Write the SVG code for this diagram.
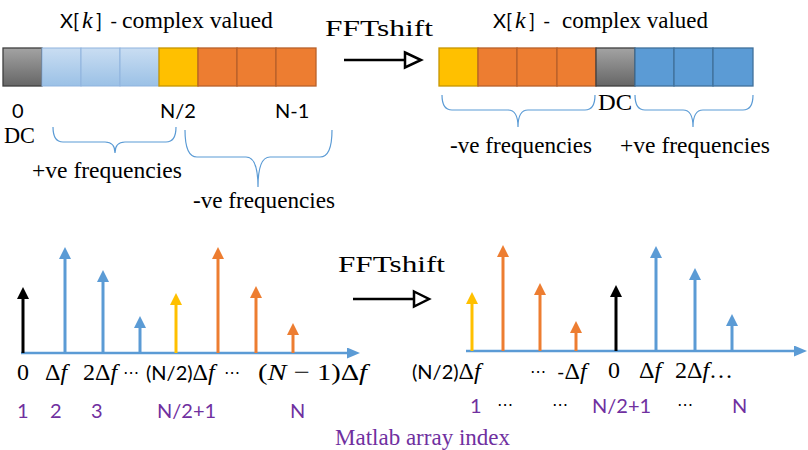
<svg xmlns="http://www.w3.org/2000/svg" width="808" height="450" viewBox="0 0 808 450">
<style>
.sans{font-family:Lato,"Open Sans","Liberation Sans",sans-serif;font-size:20px;fill:#000}
.ser{font-family:"Liberation Serif","DejaVu Serif",serif;font-size:23px;fill:#000}
.m{font-family:"Liberation Serif","DejaVu Serif",serif;font-size:24px;fill:#000}
.it{font-style:italic}
.dots{font-family:"DejaVu Sans",sans-serif;font-size:16px;fill:#000}
.pur{fill:#7030a0}
.brace{fill:none;stroke:#5b9bd5;stroke-width:1.2}
.lb{fill:url(#gLB);stroke:#8fb3de;stroke-width:1}
.bl{fill:#5b9bd5;stroke:#41719c;stroke-width:1.3}
.or{fill:#ed7d31;stroke:#b8612a;stroke-width:1.3}
.ye{fill:#ffc000;stroke:#c79600;stroke-width:1.3}
.gr{fill:url(#gGr);stroke:#3f3f3f;stroke-width:1.3}
.stem{stroke-width:3;fill:none}
.sb{stroke:#5b9bd5}
.so{stroke:#ed7d31}
.sy{stroke:#ffc000}
.sk{stroke:#000}
.axis{stroke:#5b9bd5;stroke-width:2.5;fill:none}
.shift{stroke:#000;stroke-width:2.5;fill:none}
</style>
<defs>
<linearGradient id="gLB" x1="0" y1="0" x2="0" y2="1"><stop offset="0" stop-color="#c9ddf2"/><stop offset="1" stop-color="#9bc1e6"/></linearGradient>
<linearGradient id="gGr" x1="0" y1="0" x2="0" y2="1"><stop offset="0" stop-color="#a3a3a3"/><stop offset="1" stop-color="#666"/></linearGradient>
<marker id="aB" markerUnits="userSpaceOnUse" markerWidth="12" markerHeight="12" refX="0" refY="6" orient="auto"><path d="M0,0 L12,6 L0,12 z" fill="#5b9bd5"/></marker>
<marker id="aO" markerUnits="userSpaceOnUse" markerWidth="12" markerHeight="12" refX="0" refY="6" orient="auto"><path d="M0,0 L12,6 L0,12 z" fill="#ed7d31"/></marker>
<marker id="aY" markerUnits="userSpaceOnUse" markerWidth="12" markerHeight="12" refX="0" refY="6" orient="auto"><path d="M0,0 L12,6 L0,12 z" fill="#ffc000"/></marker>
<marker id="aK" markerUnits="userSpaceOnUse" markerWidth="12" markerHeight="12" refX="0" refY="6" orient="auto"><path d="M0,0 L12,6 L0,12 z" fill="#000"/></marker>
<marker id="aAx" markerUnits="userSpaceOnUse" markerWidth="13" markerHeight="11" refX="0" refY="5.5" orient="auto"><path d="M0,0 L13,5.5 L0,11 z" fill="#5b9bd5"/></marker>
</defs>

<!-- Top-left array -->
<g id="array-original">
<rect class="gr" x="3" y="48" width="39" height="38"/>
<rect class="lb" x="42" y="48" width="39" height="38"/>
<rect class="lb" x="81" y="48" width="39" height="38"/>
<rect class="lb" x="120" y="48" width="39" height="38"/>
<rect class="ye" x="159" y="48" width="39" height="38"/>
<rect class="or" x="198" y="48" width="39" height="38"/>
<rect class="or" x="237" y="48" width="39" height="38"/>
<rect class="or" x="276" y="48" width="40" height="38"/>
</g>
<g id="title-left">
<text x="60" y="28"><tspan class="sans" font-size="22">X[</tspan><tspan class="m it" x="82">k</tspan><tspan class="sans" font-size="22" x="96">]</tspan><tspan class="sans" font-size="22" x="110">-</tspan></text>
<text class="ser" x="122" y="28" textLength="151" lengthAdjust="spacingAndGlyphs">complex valued</text>
</g>
<g id="labels-left">
<text class="sans" x="12" y="118">0</text>
<text class="sans" x="160" y="118">N/2</text>
<text class="sans" x="275" y="118">N-1</text>
<text class="ser" x="4" y="143" font-size="22" textLength="31" lengthAdjust="spacingAndGlyphs">DC</text>
<text class="ser" x="32" y="178" textLength="150" lengthAdjust="spacingAndGlyphs">+ve frequencies</text>
<text class="ser" x="193" y="208" textLength="142" lengthAdjust="spacingAndGlyphs">-ve frequencies</text>
</g>

<!-- Top-right array -->
<g id="array-shifted">
<rect class="ye" x="439" y="48" width="39" height="38"/>
<rect class="or" x="478" y="48" width="39" height="38"/>
<rect class="or" x="517" y="48" width="40" height="38"/>
<rect class="or" x="557" y="48" width="39" height="38"/>
<rect class="gr" x="596" y="48" width="39" height="38"/>
<rect class="bl" x="635" y="48" width="39" height="38"/>
<rect class="bl" x="674" y="48" width="39" height="38"/>
<rect class="bl" x="713" y="48" width="40" height="38"/>
</g>
<g id="title-right">
<text x="493" y="28"><tspan class="sans" font-size="22">X[</tspan><tspan class="m it" x="515">k</tspan><tspan class="sans" font-size="22" x="529">]</tspan><tspan class="sans" font-size="22" x="543">-</tspan></text>
<text class="ser" x="562" y="28" textLength="146" lengthAdjust="spacingAndGlyphs">complex valued</text>
</g>
<g id="labels-right">
<text class="ser" x="598" y="110" font-size="22" textLength="34" lengthAdjust="spacingAndGlyphs">DC</text>
<text class="ser" x="450" y="153" textLength="142" lengthAdjust="spacingAndGlyphs">-ve frequencies</text>
<text class="ser" x="620" y="153" textLength="150" lengthAdjust="spacingAndGlyphs">+ve frequencies</text>
</g>

<!-- FFTshift labels -->
<g id="fftshift-top">
<text class="ser" x="325" y="36" font-size="27" textLength="108" lengthAdjust="spacingAndGlyphs">FFTshift</text>
</g>
<g id="fftshift-bottom">
<text class="ser" x="338" y="272" font-size="27" textLength="107" lengthAdjust="spacingAndGlyphs">FFTshift</text>
</g>

<!-- Connectors -->
<g id="connectors">
<path class="brace" d="M53,127 Q53,142 63,142 L105,142 Q115,142 115,153 Q115,142 125,142 L166,142 Q176,142 176,127"/>
<path class="brace" d="M185,130 Q185,157 197,157 L246,157 Q258,157 258,187 Q258,157 270,157 L320,157 Q332,157 332,130"/>
<path class="brace" d="M442,95 Q442,110 452,110 L508,110 Q518,110 518,127 Q518,110 528,110 L585,110 Q595,110 595,95"/>
<path class="brace" d="M635,95 Q635,110 645,110 L683,110 Q693,110 693,127 Q693,110 703,110 L743,110 Q753,110 753,95"/>
<line class="shift" x1="344" y1="60" x2="405" y2="60"/>
<path d="M405,52.5 L421,60 L405,67.5 z" fill="#fff" stroke="#000" stroke-width="2.5"/>
<line class="shift" x1="353" y1="299" x2="414" y2="299"/>
<path d="M414,291.5 L429,299 L414,306.5 z" fill="#fff" stroke="#000" stroke-width="2.5"/>
</g>

<!-- Bottom-left spectrum -->
<g id="spectrum-original">
<line class="axis" x1="21" y1="353" x2="347" y2="353" marker-end="url(#aAx)"/>
<line class="stem sk" x1="23" y1="353" x2="23" y2="299" marker-end="url(#aK)"/>
<line class="stem sb" x1="65" y1="353" x2="65" y2="259" marker-end="url(#aB)"/>
<line class="stem sb" x1="103" y1="353" x2="103" y2="282" marker-end="url(#aB)"/>
<line class="stem sb" x1="140" y1="353" x2="140" y2="328" marker-end="url(#aB)"/>
<line class="stem sy" x1="176" y1="353" x2="176" y2="305" marker-end="url(#aY)"/>
<line class="stem so" x1="218" y1="353" x2="218" y2="259" marker-end="url(#aO)"/>
<line class="stem so" x1="256" y1="353" x2="256" y2="298" marker-end="url(#aO)"/>
<line class="stem so" x1="293" y1="353" x2="293" y2="335" marker-end="url(#aO)"/>
</g>
<g id="freq-labels-left">
<text class="m" x="17" y="380">0</text>
<text class="m" x="45" y="380">Δ<tspan class="it">f</tspan></text>
<text class="m" x="83" y="380">2Δ<tspan class="it">f</tspan></text>
<text class="dots" x="123" y="378">⋯</text>
<text x="146" y="380"><tspan class="sans">(N/2)</tspan><tspan class="m">Δ</tspan><tspan class="m it">f</tspan></text>
<text class="dots" x="224" y="378">⋯</text>
<text class="m" x="258" y="380" textLength="109" lengthAdjust="spacingAndGlyphs">(<tspan class="it">N</tspan> − 1)Δ<tspan class="it">f</tspan></text>
</g>
<g id="index-left">
<text class="sans pur" x="17" y="418">1</text>
<text class="sans pur" x="50" y="418">2</text>
<text class="sans pur" x="91" y="418">3</text>
<text class="sans pur" x="157" y="418">N/2+1</text>
<text class="sans pur" x="290" y="418">N</text>
</g>

<!-- Bottom-right spectrum -->
<g id="spectrum-shifted">
<line class="axis" x1="466" y1="351" x2="794" y2="351" marker-end="url(#aAx)"/>
<line class="stem sy" x1="472" y1="351" x2="472" y2="304" marker-end="url(#aY)"/>
<line class="stem so" x1="503" y1="351" x2="503" y2="257" marker-end="url(#aO)"/>
<line class="stem so" x1="540" y1="351" x2="540" y2="295" marker-end="url(#aO)"/>
<line class="stem so" x1="576" y1="351" x2="576" y2="333" marker-end="url(#aO)"/>
<line class="stem sk" x1="616" y1="351" x2="616" y2="297" marker-end="url(#aK)"/>
<line class="stem sb" x1="656" y1="351" x2="656" y2="258" marker-end="url(#aB)"/>
<line class="stem sb" x1="695" y1="351" x2="695" y2="280" marker-end="url(#aB)"/>
<line class="stem sb" x1="732" y1="351" x2="732" y2="326" marker-end="url(#aB)"/>
</g>
<g id="freq-labels-right">
<text x="412" y="379"><tspan class="sans">(N/2)</tspan><tspan class="m">Δ</tspan><tspan class="m it">f</tspan></text>
<text class="dots" x="530" y="377">⋯</text>
<text x="557" y="379"><tspan class="sans">-</tspan><tspan class="m">Δ</tspan><tspan class="m it">f</tspan></text>
<text class="m" x="608" y="378">0</text>
<text class="m" x="639" y="378">Δ<tspan class="it">f</tspan></text>
<text class="m" x="675" y="378">2Δ<tspan class="it">f</tspan>…</text>
</g>
<g id="index-right">
<text class="sans pur" x="470" y="413">1</text>
<text class="dots" x="497" y="410">⋯</text>
<text class="dots" x="552" y="410">⋯</text>
<text class="sans pur" x="592" y="413">N/2+1</text>
<text class="dots" x="677" y="410">⋯</text>
<text class="sans pur" x="732" y="413">N</text>
</g>
<g id="caption">
<text class="ser pur" x="335" y="445" font-size="22" textLength="175" lengthAdjust="spacingAndGlyphs">Matlab array index</text>
</g>
</svg>
